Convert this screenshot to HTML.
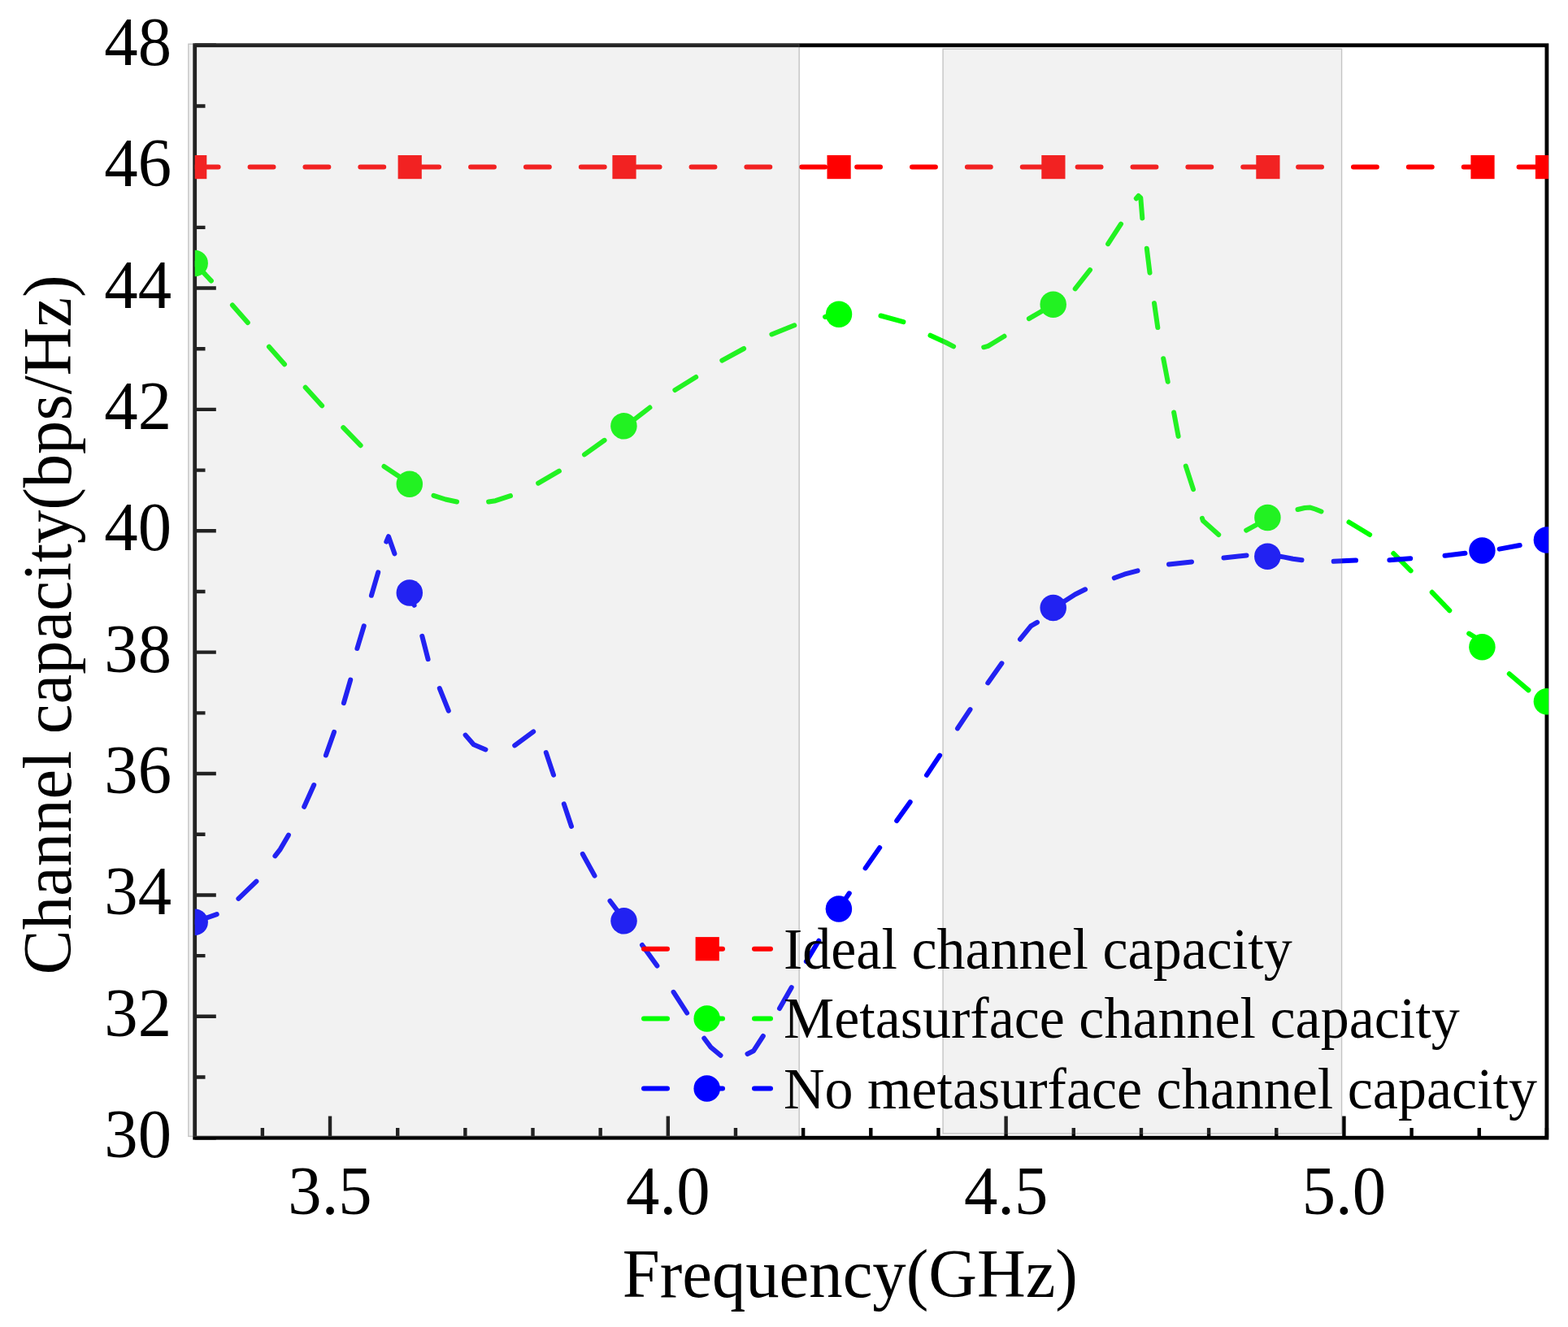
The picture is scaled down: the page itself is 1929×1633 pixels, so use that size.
<!DOCTYPE html>
<html><head><meta charset="utf-8"><title>Channel capacity</title>
<style>
html,body{margin:0;padding:0;background:#fff;overflow:hidden}
svg{display:block}
text{font-family:"Liberation Serif","Times New Roman",serif;fill:#000}
</style></head>
<body>
<svg width="1929" height="1633" viewBox="0 0 1929 1633">
<defs><clipPath id="pc"><rect x="239.7" y="55.75" width="1665.3" height="1344.45"/></clipPath></defs>
<rect width="1929" height="1633" fill="#fff"/>
<g stroke="#000" fill="none">
<rect x="239.7" y="55.75" width="1663.2" height="1344.45" stroke-width="4.8"/>
<path d="M239.7 1400.20H265.8M239.7 1325.51H252.5M239.7 1250.82H265.8M239.7 1176.12H252.5M239.7 1101.43H265.8M239.7 1026.74H252.5M239.7 952.05H265.8M239.7 877.36H252.5M239.7 802.67H265.8M239.7 727.98H252.5M239.7 653.28H265.8M239.7 578.59H252.5M239.7 503.90H265.8M239.7 429.21H252.5M239.7 354.52H265.8M239.7 279.83H252.5M239.7 205.13H265.8M239.7 130.44H252.5M239.7 55.75H265.8M322.86 1400.2V1387.9M406.02 1400.2V1373.6M489.18 1400.2V1387.9M572.34 1400.2V1387.9M655.50 1400.2V1387.9M738.66 1400.2V1387.9M821.82 1400.2V1373.6M904.98 1400.2V1387.9M988.14 1400.2V1387.9M1071.30 1400.2V1387.9M1154.46 1400.2V1387.9M1237.62 1400.2V1373.6M1320.78 1400.2V1387.9M1403.94 1400.2V1387.9M1487.10 1400.2V1387.9M1570.26 1400.2V1387.9M1653.42 1400.2V1373.6M1736.58 1400.2V1387.9M1819.74 1400.2V1387.9M1902.90 1400.2V1387.9" stroke-width="4.4"/>
</g>
<g clip-path="url(#pc)">
<line x1="239.7" y1="205.6" x2="1902.9" y2="205.6" stroke="#ff0000" stroke-width="6.0" stroke-linecap="round" stroke-dasharray="28.9 38.97"/>
<g fill="#ff0000"><rect x="225.10" y="191.00" width="29.2" height="29.2"/><rect x="489.60" y="191.00" width="29.2" height="29.2"/><rect x="753.40" y="191.00" width="29.2" height="29.2"/><rect x="1017.50" y="191.00" width="29.2" height="29.2"/><rect x="1281.30" y="191.00" width="29.2" height="29.2"/><rect x="1545.30" y="191.00" width="29.2" height="29.2"/><rect x="1809.40" y="191.00" width="29.2" height="29.2"/><rect x="1888.90" y="191.00" width="29.2" height="29.2"/></g>
<g fill="none" stroke="#00ff00" stroke-width="6.0" stroke-linecap="round" stroke-linejoin="round">
<polyline points="239.7,324.0 259.9,345.6"/>
<polyline points="285.9,375.5 304.8,397.0"/>
<polyline points="331.0,426.7 350.0,448.2"/>
<polyline points="375.7,476.7 396.1,499.2"/>
<polyline points="422.3,526.2 443.6,548.2"/>
<polyline points="472.5,573.9 490.9,586.2 496.5,590.5"/>
<polyline points="533.5,609.8 548.0,614.5 562.0,617.5"/>
<polyline points="601.1,617.5 609.6,616.2 628.0,610.2"/>
<polyline points="662.2,594.7 687.9,579.7"/>
<polyline points="719.0,559.4 743.6,541.8"/>
<polyline points="774.0,520.0 780.0,516.5 799.4,501.5"/>
<polyline points="830.4,480.0 856.2,464.0"/>
<polyline points="888.3,443.6 915.1,429.0"/>
<polyline points="949.4,411.5 977.3,400.3"/>
<polyline points="1015.0,390.0 1032.0,386.7 1042.0,386.0"/>
<polyline points="1083.5,388.5 1111.4,396.2"/>
<polyline points="1144.5,412.7 1156.0,418.0 1163.7,421.5 1173.1,426.3"/>
<polyline points="1210.2,427.3 1215.6,425.9 1222.0,422.0 1235.5,413.7"/>
<polyline points="1265.9,392.2 1283.5,381.8 1290.5,377.8"/>
<polyline points="1322.7,355.3 1341.0,332.1"/>
<polyline points="1363.1,300.2 1379.0,275.7"/>
<polyline points="1397.8,244.2 1400.6,241.0 1403.3,243.5 1405.3,268.4"/>
<polyline points="1410.8,305.7 1414.5,335.7"/>
<polyline points="1420.0,373.1 1424.3,403.1"/>
<polyline points="1431.2,441.3 1436.7,469.8"/>
<polyline points="1444.1,507.5 1449.6,536.9"/>
<polyline points="1458.8,573.6 1468.0,602.1"/>
<polyline points="1479.0,637.9 1479.9,640.7 1499.2,658.1"/>
<polyline points="1533.2,652.6 1545.1,646.2 1556.0,640.0"/>
<polyline points="1596.5,627.0 1605.0,625.0 1612.0,624.6 1618.0,626.5 1625.5,629.5"/>
<polyline points="1659.5,642.5 1685.1,658.0"/>
<polyline points="1714.3,681.0 1735.6,702.3"/>
<polyline points="1761.7,728.8 1783.3,751.3"/>
<polyline points="1807.2,779.6 1814.3,784.0 1823.4,796.3"/>
<polyline points="1856.8,829.2 1880.4,849.4"/>
</g>
<g fill="#00ff00"><circle cx="239.7" cy="324.0" r="16.25"/><circle cx="503.8" cy="595.7" r="16.25"/><circle cx="767.4" cy="524.3" r="16.25"/><circle cx="1032.0" cy="386.7" r="16.25"/><circle cx="1295.7" cy="374.8" r="16.25"/><circle cx="1559.4" cy="637.0" r="16.25"/><circle cx="1823.4" cy="796.3" r="16.25"/><circle cx="1902.9" cy="863.3" r="16.25"/></g>
<g fill="none" stroke="#0000ff" stroke-width="6.0" stroke-linecap="round" stroke-linejoin="round">
<polyline points="239.7,1134.7 266.7,1125.1"/>
<polyline points="293.4,1105.8 315.4,1084.6"/>
<polyline points="338.4,1053.4 344.8,1045.1 354.9,1027.7"/>
<polyline points="374.2,992.8 386.2,966.1"/>
<polyline points="400.9,929.4 411.0,900.9"/>
<polyline points="422.9,865.1 431.2,836.6"/>
<polyline points="439.4,798.0 447.7,770.4"/>
<polyline points="456.9,732.8 465.2,704.3"/>
<polyline points="475.3,666.6 478.0,660.2 485.4,681.3"/>
<polyline points="499.4,718.1 503.8,729.6 509.6,744.8"/>
<polyline points="519.3,782.8 526.6,811.2"/>
<polyline points="540.8,847.1 551.8,874.6"/>
<polyline points="572.6,904.6 582.7,916.3 597.4,922.4"/>
<polyline points="633.2,917.4 656.2,900.3"/>
<polyline points="671.8,926.1 681.0,953.6"/>
<polyline points="693.8,989.4 703.0,1017.0"/>
<polyline points="716.8,1051.0 731.5,1077.6"/>
<polyline points="750.5,1108.7 758.8,1119.7 767.5,1133.3"/>
<polyline points="790.0,1162.9 808.4,1188.6"/>
<polyline points="828.6,1220.8 845.1,1246.5"/>
<polyline points="866.3,1277.7 874.5,1288.7 886.5,1298.8"/>
<polyline points="919.5,1297.0 926.9,1293.3 938.8,1275.0"/>
<polyline points="959.0,1241.0 973.7,1215.2"/>
<polyline points="991.9,1183.1 1007.3,1157.7"/>
<polyline points="1028.2,1124.3 1031.9,1118.4 1044.8,1099.3"/>
<polyline points="1064.6,1068.4 1082.2,1043.1"/>
<polyline points="1103.2,1010.0 1119.7,986.9"/>
<polyline points="1140.0,953.8 1156.1,929.6"/>
<polyline points="1178.0,896.4 1193.5,873.1"/>
<polyline points="1215.3,840.4 1232.4,816.3"/>
<polyline points="1255.0,786.7 1268.2,770.4 1276.0,765.8"/>
<polyline points="1307.0,741.5 1322.6,731.5 1335.1,725.3"/>
<polyline points="1370.8,711.3 1383.3,706.7 1399.6,702.3"/>
<polyline points="1438.0,694.5 1466.0,691.4"/>
<polyline points="1505.5,686.5 1533.5,683.4"/>
<polyline points="1572.0,684.2 1580.0,685.6 1590.6,687.8 1601.5,689.3"/>
<polyline points="1640.7,690.8 1668.0,689.6"/>
<polyline points="1709.4,689.2 1735.2,687.3"/>
<polyline points="1777.5,683.8 1802.5,680.8"/>
<polyline points="1844.7,675.6 1869.7,671.0"/>
</g>
<g fill="#0000ff"><circle cx="239.7" cy="1134.7" r="16.25"/><circle cx="503.8" cy="729.6" r="16.25"/><circle cx="767.5" cy="1133.3" r="16.25"/><circle cx="1031.9" cy="1118.4" r="16.25"/><circle cx="1295.7" cy="748.0" r="16.25"/><circle cx="1559.3" cy="684.8" r="16.25"/><circle cx="1823.4" cy="677.6" r="16.25"/><circle cx="1902.9" cy="664.4" r="16.25"/></g>
</g>
<g fill="rgb(185,185,185)" fill-opacity="0.184" stroke="rgb(100,100,100)" stroke-opacity="0.35" stroke-width="1.4">
<rect x="231.8" y="54.2" width="751.4" height="1344.2"/>
<rect x="1160" y="60.2" width="490.6" height="1334.8"/>
</g>
<line x1="792.0" y1="1167.7" x2="948.0" y2="1167.7" stroke="#ff0000" stroke-width="6.0" stroke-linecap="round" stroke-dasharray="29 39"/>
<rect x="855.60" y="1153.10" width="29.2" height="29.2" fill="#ff0000"/>
<text transform="translate(964,1191.7) scale(1,1.025)" font-size="70.0">Ideal channel capacity</text>
<line x1="792.0" y1="1253.4" x2="948.0" y2="1253.4" stroke="#00ff00" stroke-width="6.0" stroke-linecap="round" stroke-dasharray="29 39"/>
<circle cx="869.7" cy="1253.4" r="16.25" fill="#00ff00"/>
<text transform="translate(964,1277.2) scale(1,1.025)" font-size="70.0">Metasurface channel capacity</text>
<line x1="792.0" y1="1339.6" x2="948.0" y2="1339.6" stroke="#0000ff" stroke-width="6.0" stroke-linecap="round" stroke-dasharray="29 39"/>
<circle cx="869.7" cy="1339.6" r="16.25" fill="#0000ff"/>
<text transform="translate(964,1363.5) scale(1,1.025)" font-size="70.0">No metasurface channel capacity</text>
<g font-size="82.7">
<text transform="translate(211,1424.2) scale(1,1.025)" text-anchor="end">30</text>
<text transform="translate(211,1274.8) scale(1,1.025)" text-anchor="end">32</text>
<text transform="translate(211,1125.4) scale(1,1.025)" text-anchor="end">34</text>
<text transform="translate(211,976.1) scale(1,1.025)" text-anchor="end">36</text>
<text transform="translate(211,826.7) scale(1,1.025)" text-anchor="end">38</text>
<text transform="translate(211,677.3) scale(1,1.025)" text-anchor="end">40</text>
<text transform="translate(211,527.9) scale(1,1.025)" text-anchor="end">42</text>
<text transform="translate(211,378.5) scale(1,1.025)" text-anchor="end">44</text>
<text transform="translate(211,229.1) scale(1,1.025)" text-anchor="end">46</text>
<text transform="translate(211,79.8) scale(1,1.025)" text-anchor="end">48</text>
<text transform="translate(406.0,1493.6) scale(1,1.025)" text-anchor="middle">3.5</text>
<text transform="translate(821.8,1493.6) scale(1,1.025)" text-anchor="middle">4.0</text>
<text transform="translate(1237.6,1493.6) scale(1,1.025)" text-anchor="middle">4.5</text>
<text transform="translate(1653.4,1493.6) scale(1,1.025)" text-anchor="middle">5.0</text>
<text transform="translate(765.7,1595.5) scale(1,1.02)">Frequency(GHz)</text>
<text transform="translate(87,1199.4) rotate(-90) scale(1,1.02)">Channel capacity(bps/Hz)</text>
</g>
</svg>
</body></html>
